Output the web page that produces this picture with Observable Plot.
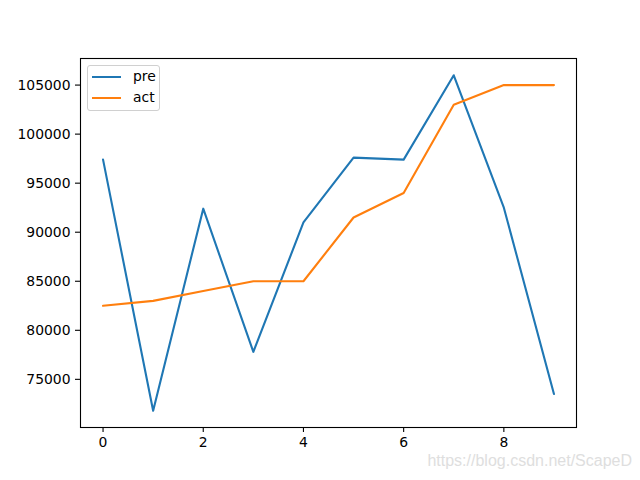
<!DOCTYPE html>
<html>
<head>
<meta charset="utf-8">
<script src="https://cdn.jsdelivr.net/npm/d3@7"></script>
<script src="https://cdn.jsdelivr.net/npm/@observablehq/plot@0.6"></script>
<style>
  html, body { margin: 0; padding: 0; background: #fff; }
  #wrap { position: relative; width: 640px; height: 480px; font-family: "DejaVu Sans", sans-serif; }
  #legend { position: absolute; left: 87px; top: 65px; width: 73px; height: 46px; border: 1px solid #d0d0d0; border-radius: 3px; background: rgba(255,255,255,0.8); box-sizing: border-box; }
  .item { position: absolute; left: 4px; height: 14px; font-size: 13.9px; line-height: 14px; color: #000; }
  .item .sw { position: absolute; left: 0; top: 6px; width: 29px; height: 2px; }
  .item .lb { position: absolute; left: 41px; top: -1px; white-space: nowrap; }
  #wm { position: absolute; right: 8px; top: 452px; font-family: "Liberation Sans", Arial, sans-serif; font-size: 16px; color: #dedede; text-shadow: 0 0 1px #fff; white-space: nowrap; }
</style>
</head>
<body>
<div id="wrap"></div>
<script>
const xs = [0, 1, 2, 3, 4, 5, 6, 7, 8, 9];
const pre = [97400, 71800, 92400, 77800, 91000, 97600, 97400, 106000, 92500, 73500];
const act = [82500, 83000, 84000, 85000, 85000, 91500, 94000, 103000, 105000, 105000];
const seriesNames = ["pre", "act"];
const seriesColors = ["#1f77b4", "#ff7f0e"];
const xTicks = [0, 2, 4, 6, 8];
const yTicks = [75000, 80000, 85000, 90000, 95000, 100000, 105000];

const rows = [];
xs.forEach((x, i) => rows.push({x, v: pre[i], s: "pre"}));
xs.forEach((x, i) => rows.push({x, v: act[i], s: "act"}));

const chart = Plot.plot({
  width: 640,
  height: 480,
  marginLeft: 80,
  marginRight: 64,
  marginTop: 58,
  marginBottom: 53,
  style: { fontFamily: "DejaVu Sans, sans-serif", fontSize: "13.9px", color: "#000", background: "#fff" },
  x: { domain: [-0.45, 9.45], ticks: xTicks, label: null },
  y: { domain: [70090, 107710], ticks: yTicks, label: null },
  color: { domain: seriesNames, range: seriesColors },
  marks: [
    Plot.line(rows, { x: "x", y: "v", z: "s", stroke: "s", strokeWidth: 2.1 }),
    Plot.frame({ stroke: "#000", strokeWidth: 1.1 }),
    Plot.axisX({ ticks: xTicks, tickSize: 5, tickPadding: 5, tickFormat: d => String(d), label: null, stroke: "#000", strokeWidth: 1.1 }),
    Plot.axisY({ ticks: yTicks, tickSize: 5, tickPadding: 5, tickFormat: d => String(d), label: null, stroke: "#000", strokeWidth: 1.1 })
  ]
});

const wrap = document.getElementById("wrap");
wrap.appendChild(chart);

const legend = document.createElement("div");
legend.id = "legend";
seriesNames.forEach((name, i) => {
  const it = document.createElement("div");
  it.className = "item";
  it.style.top = (4 + i * 21) + "px";
  const sw = document.createElement("div");
  sw.className = "sw";
  sw.style.background = seriesColors[i];
  const lb = document.createElement("span");
  lb.className = "lb";
  lb.textContent = name;
  it.appendChild(sw);
  it.appendChild(lb);
  legend.appendChild(it);
});
wrap.appendChild(legend);

const wm = document.createElement("div");
wm.id = "wm";
wm.textContent = "https://blog.csdn.net/ScapeD";
wrap.appendChild(wm);
</script>
</body>
</html>
